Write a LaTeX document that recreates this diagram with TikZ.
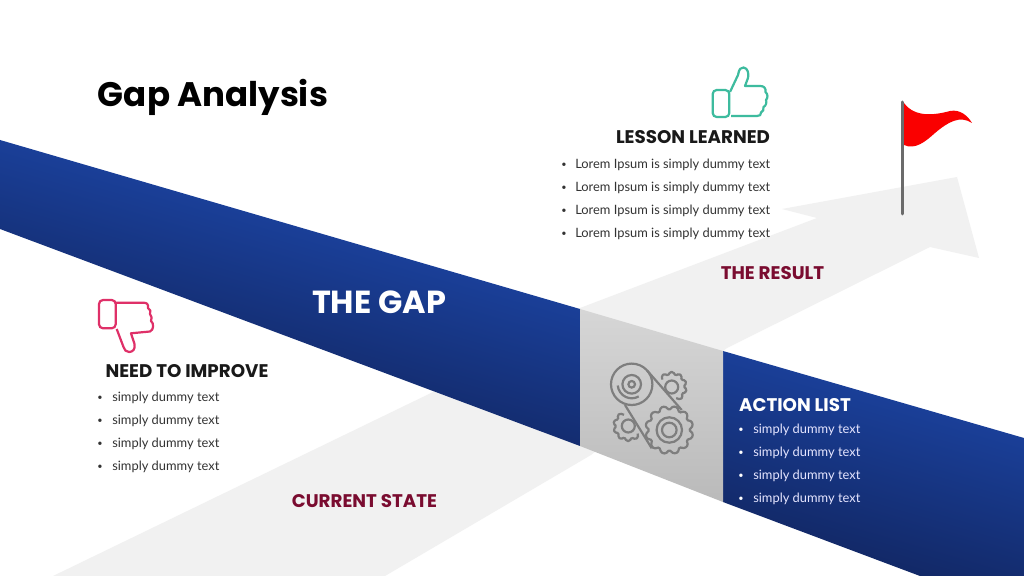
\documentclass[tikz,border=0pt]{standalone}
\usepackage{fontspec}
\setmainfont{Lato}
\newfontfamily\headfont{Poppins}
\usetikzlibrary{positioning}
\definecolor{bandtop}{HTML}{1A3F98}
\definecolor{bandlow}{HTML}{122866}
\definecolor{arrowgrey}{HTML}{F1F1F1}
\definecolor{wine}{HTML}{7A0C30}
\definecolor{iconteal}{HTML}{3DBB9E}
\definecolor{iconpink}{HTML}{DF3068}
\definecolor{gearcol}{HTML}{7E7E7E}
\tikzset{
  headtext/.style = {font = \headfont\bfseries\fontsize{13pt}{15pt}\selectfont, text = #1, inner sep = 0pt},
  listtext/.style = {font = \fontsize{9.15pt}{11pt}\selectfont, text = #1, anchor = west, inner sep = 0pt},
  dottext/.style = {font = \fontsize{6.5pt}{8pt}\selectfont, text = #1, inner sep = 0pt},
  iconline/.style = {gearcol, line width = 0.55mm},
  thumbline/.style = {#1, line width = 0.55mm, line join = round},
  cuffline/.style = {#1, line width = 0.55mm, rounded corners = 1mm}
}
\newcommand{\gearpath}[7]{%
  \draw[iconline, rounded corners = 0.3mm] ([shift={(#1,#2)}]#5:#4)
    foreach \i in {0,...,#7} {
      -- ([shift={(#1,#2)}]#5+\i*#6+0.3*#6:#3)
      -- ([shift={(#1,#2)}]#5+\i*#6+0.65*#6:#3)
      -- ([shift={(#1,#2)}]#5+\i*#6+#6:#4)
    };}

\begin{document}
\begin{tikzpicture}[x = 0.025cm, y = -0.025cm]
    \useasboundingbox[fill = white] (0,0) rectangle (1024,576);
    \fill[arrowgrey] (53,576) -- (431,393) -- (580,308) -- (817,218) -- (782,209) -- (957,177) -- (979,258) -- (930,247) -- (727,348) -- (591,455) -- (385,576) -- cycle;
    \begin{scope}
      \clip (0,140) -- (580,309) -- (580,446) -- (0,229) -- cycle (723,351) -- (1024,438) -- (1024,576) -- (920,576) -- (723,502) -- cycle;
      \shade[transform canvas = {rotate around = {-16.2:(0,140)}}, top color = bandtop, bottom color = bandlow] (-200,140) rectangle (1300,305);
    \end{scope}
    \shade[top color = black!16, bottom color = black!27] (580,309) -- (723,351) -- (723,502) -- (580,446) -- cycle;

    \draw[iconline] (631.7,384.3) circle (20.7);
    \draw[iconline] (631.7,384.3) circle (9.3);
    \draw[iconline] (631.7,384.3) circle (3.3);
    \draw[iconline] (631.7,384.3) ++(175:14) arc (175:60:14);
    \draw[iconline] (647.3,370.7) -- (681.7,410);
    \draw[iconline] (625,405) -- (651.7,448.3);
    \gearpath{671.7}{387}{15}{12}{-142}{35}{5}
    \draw[iconline] (671.7,387) circle (6.5);
    \gearpath{628.3}{426}{15}{12}{39}{35}{5}
    \draw[iconline] (628.3,426) circle (6.5);
    \gearpath{669.3}{430}{24}{20}{0}{30}{11}
    \draw[iconline] (669.3,430) circle (12.7);
    \draw[iconline] (669.3,430) circle (7.3);

    \draw[cuffline = iconteal] (712.7,90) rectangle (729.3,117);
    \draw[thumbline = iconteal] (730,92) -- (738,75) .. controls (739,69) and (741,67) .. (743.5,67.5) .. controls (748,68) and (749,74) .. (748,78) -- (745,86) -- (760,86) .. controls (764,86) and (766,88) .. (765.5,92) .. controls (768,94) and (768,98) .. (766,100) .. controls (767,102) and (766,106) .. (763.5,107) .. controls (764,109) and (763,112) .. (761,112.5) .. controls (761,115) and (760,116) .. (757,116) -- (731,116);
    \draw[cuffline = iconpink] (99,300) rectangle (115.7,328.3);
    \draw[thumbline = iconpink] (116,302.7) -- (143,302.7) .. controls (147,302.7) and (148.5,304) .. (148,308) .. controls (150.5,309) and (151,312) .. (150,314) .. controls (152,316) and (152,319) .. (151,321) .. controls (154,323) and (154,330) .. (150,331.5) -- (131,333.3) -- (134.5,344) .. controls (135.5,349) and (133,352) .. (129,352) .. controls (126,352) and (124.5,350) .. (123.5,347) -- (116.7,329);

    \draw[black!58, line width = 0.75mm, line cap = round] (902.3,102) -- (902.3,214);
    \fill[red!98!black] (904,103) .. controls (915,118) and (935,115) .. (950,111) .. controls (960,109) and (968,116) .. (972,123) .. controls (960,115) and (948,122) .. (935,133) .. controls (925,142) and (915,150) .. (904,145) -- cycle;

    \node at (213,97) [headtext = black, font = \headfont\bfseries\fontsize{24.2pt}{28pt}\selectfont] (title) {Gap Analysis};
    \node at (379,302.5) [headtext = white, font = \headfont\bfseries\fontsize{22.7pt}{26pt}\selectfont] (gap) {THE GAP};
    \node at (187,371) [headtext = black!90] (improve) {NEED TO IMPROVE};
    \node at (693,137) [headtext = black!90] (lesson) {LESSON LEARNED};
    \node at (795,405) [headtext = white] (action) {ACTION LIST};
    \node at (772.5,273) [headtext = wine] (result) {THE RESULT};
    \node at (364.5,501) [headtext = wine] (current) {CURRENT STATE};

    \foreach \y in {165,188,211,234} {
      \node at (564,\y) [dottext = black!80] (bullet\y) {\textbullet};
      \node at (575,\y) [listtext = black!80] (lorem\y) {Lorem Ipsum is simply dummy text};
    }
    \foreach \y in {398,421,444,467} {
      \node at (100,\y) [dottext = black!80] (bulletl\y) {\textbullet};
      \node at (112,\y) [listtext = black!80] (need\y) {simply dummy text};
    }
    \foreach \y in {430,453,476,499} {
      \node at (741,\y) [dottext = white] (bulleta\y) {\textbullet};
      \node at (753,\y) [listtext = white!90!blue] (act\y) {simply dummy text};
    }
  \end{tikzpicture}
\end{document}
